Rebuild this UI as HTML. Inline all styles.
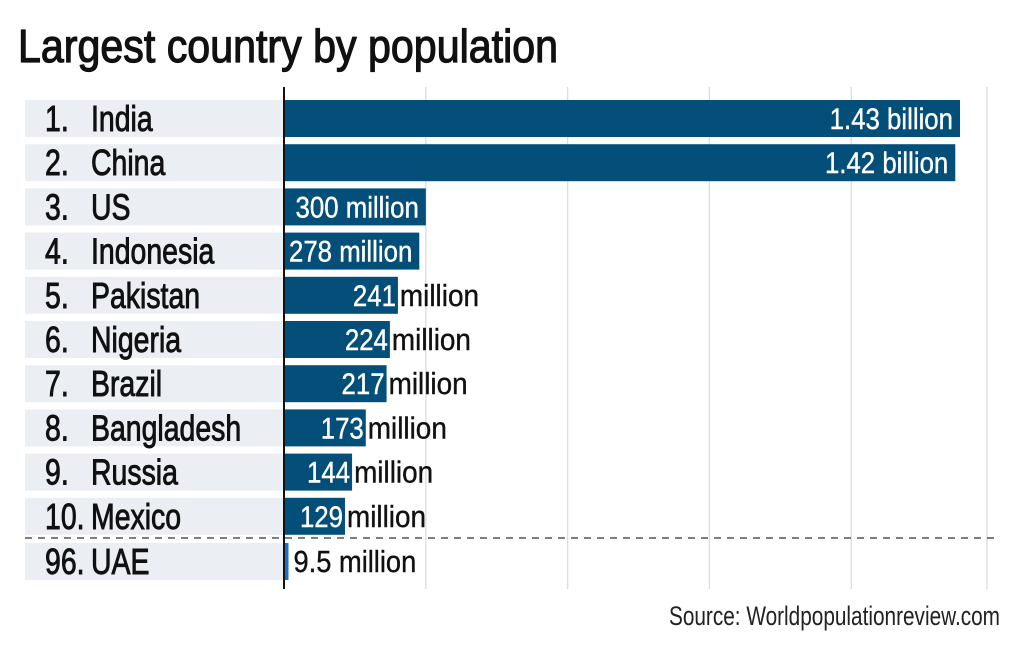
<!DOCTYPE html>
<html><head><meta charset="utf-8"><style>
html,body{margin:0;padding:0;background:#fff;width:1024px;height:652px;overflow:hidden}
text{font-family:"Liberation Sans",sans-serif}
</style></head><body>
<svg id="chart" width="1024" height="652" viewBox="0 0 1024 652" xmlns="http://www.w3.org/2000/svg">
<text x="18" y="62" font-size="46" fill="#111" stroke="#111" stroke-width="1.2" textLength="540" lengthAdjust="spacingAndGlyphs">Largest country by population</text>
<g id="grid"></g>
<g id="rows"></g>
<line x1="284" y1="87" x2="284" y2="589" stroke="#111" stroke-width="2"/>
<line x1="25" y1="538" x2="1000" y2="538" stroke="#333" stroke-width="1.3" stroke-dasharray="7,6"/>
<g transform="translate(1000,625) scale(0.77,1)"><text font-size="27" fill="#222">
</text><text font-size="27" fill="#222" text-anchor="end">Source: Worldpopulationreview.com</text></g>
</svg>
<script>
const ranks=["1.","2.","3.","4.","5.","6.","7.","8.","9.","10.","96."];
const countries=["India","China","US","Indonesia","Pakistan","Nigeria","Brazil","Bangladesh","Russia","Mexico","UAE"];
const values=[1430,1420,300,278,241,224,217,173,144,129,9.5];
const valueNums=["1.43","1.42","300","278","241","224","217","173","144","129","9.5"];
const valueUnits=["billion","billion","million","million","million","million","million","million","million","million","million"];
const gridTicks=[300,600,900,1200,1487];

const NS="http://www.w3.org/2000/svg";
const x0=284, pxPerM=676/1430;
const xs=v=>x0+v*pxPerM;
const rowY=i=>i<10?100+i*44.2:543;
function mk(t,a,p){const e=document.createElementNS(NS,t);for(const k in a)e.setAttribute(k,a[k]);p.appendChild(e);return e;}
function txt(p,x,y,s,size,fill,anchor,sx,sw){const g=mk('g',{transform:`translate(${x},${y}) scale(${sx},1)`},p);const a={'font-size':size,fill:fill,'text-anchor':anchor||'start'};if(sw){a.stroke=fill;a['stroke-width']=sw;}const t=mk('text',a,g);t.textContent=s;return g;}

const grid=document.getElementById('grid');
gridTicks.forEach((v,i)=>{
  const l=mk('line',{x1:xs(v),x2:xs(v),y1:87,y2:589,stroke:'#dcdcdc','stroke-width':1.3},grid);
  
  
});

const rows=document.getElementById('rows');
const LS=0.79, VS=0.86;
countries.forEach((c,i)=>{
  const y=rowY(i), h=37, base=y+31;
  const bg=mk('rect',{x:25,y:y,width:259,height:h,fill:'#ebeff3'},rows);
  
  
  const r=txt(rows,45,base,ranks[i],36,'#111','start',LS,0.9);
  
  
  const n=txt(rows,91,base,c,36,'#111','start',LS,0.9);
  
  
  let w=Math.max(values[i]*pxPerM,3);
  const bar=mk('rect',{x:x0,y:y,width:w,height:h,fill:i===10?'#1f6fc5':'#044f79'},rows);
  
  
  const vb=base-2, fs=30;
  let lab;
  if(values[i]>=250){
    lab=mk('g',{},rows);
    const tg=txt(lab,0,vb,valueNums[i]+' '+valueUnits[i],fs,'#fff','end',VS,0.4);
    const tw=tg.getBBox().width*VS;
    if(tw+12>w){w=tw+12;bar.setAttribute('width',w);}
    tg.setAttribute('transform',`translate(${x0+w-7},${vb}) scale(${VS},1)`);
  } else if(values[i]>=50){
    lab=mk('g',{},rows);
    txt(lab,x0+w-2,vb,valueNums[i],fs,'#fff','end',VS,0.4);
    txt(lab,x0+w+2,vb,valueUnits[i],31,'#111','start',0.9,0.4);
  } else {
    lab=txt(rows,x0+w+5,vb,valueNums[i]+' '+valueUnits[i],31,'#111','start',0.88,0.4);
  }
  
  
});
</script>
</body></html>
